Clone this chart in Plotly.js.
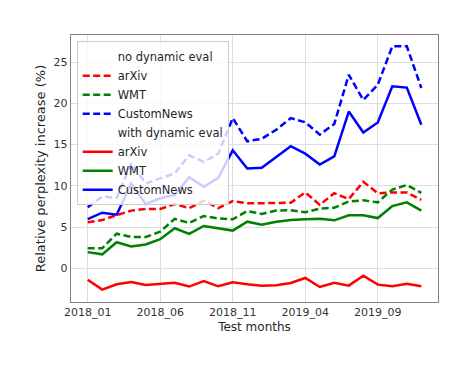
<!DOCTYPE html>
<html>
<head>
<meta charset="utf-8">
<script src="https://cdn.plot.ly/plotly-3.0.1.min.js"></script>
<style>html,body{margin:0;padding:0;background:#fff;}#chart{width:474px;height:366px;}</style>
</head>
<body>
<div id="chart"></div>
<script>
var months = ['2018_01','2018_02','2018_03','2018_04','2018_05','2018_06','2018_07','2018_08','2018_09','2018_10','2018_11','2018_12',
              '2019_01','2019_02','2019_03','2019_04','2019_05','2019_06','2019_07','2019_08','2019_09','2019_10','2019_11','2019_12'];
var tickMonths = ['2018_01','2018_06','2018_11','2019_04','2019_09'];

// no dynamic eval
var arxivNoDyn  = [5.6, 5.85, 6.45, 7.0, 7.2, 7.2, 7.8, 7.3, 8.2, 7.3, 8.15, 7.9, 7.9, 7.95, 7.95, 9.2, 7.7, 9.1, 8.4, 10.5, 9.1, 9.2, 9.2, 8.3];
var wmtNoDyn    = [2.45, 2.45, 4.2, 3.8, 3.8, 4.45, 6.0, 5.5, 6.35, 6.05, 5.95, 6.95, 6.6, 7.0, 7.05, 6.8, 7.25, 7.35, 8.1, 8.25, 8.0, 9.55, 10.1, 9.15];
var newsNoDyn   = [7.4, 8.7, 8.55, 12.7, 10.3, 10.9, 11.5, 13.7, 12.9, 13.9, 18.2, 15.4, 15.7, 16.8, 18.2, 17.7, 16.2, 17.5, 23.45, 20.4, 22.25, 26.9, 26.9, 21.85];
// with dynamic eval
var arxivDyn    = [-1.37, -2.57, -1.93, -1.65, -2.0, -1.89, -1.73, -2.2, -1.53, -2.17, -1.69, -1.93, -2.09, -2.05, -1.77, -1.16, -2.25, -1.73, -2.09, -0.88, -1.97, -2.17, -1.85, -2.17];
var wmtDyn      = [1.97, 1.7, 3.17, 2.65, 2.9, 3.53, 4.86, 4.18, 5.14, 4.86, 4.58, 5.66, 5.3, 5.66, 5.86, 5.94, 6.0, 5.82, 6.43, 6.43, 6.1, 7.55, 8.0, 7.0];
var newsDyn     = [5.98, 6.75, 6.5, 10.28, 7.8, 8.5, 8.9, 11.04, 9.88, 10.96, 14.3, 12.1, 12.2, 13.5, 14.8, 13.9, 12.57, 13.57, 19.0, 16.47, 17.67, 22.05, 21.9, 17.4];

var RED = '#ff0000', GREEN = '#008000', BLUE = '#0000ff';
var W = 2.5, DASH = '7px,3.5px';

function header(name) {
  return {x: [null], y: [null], mode: 'lines', name: name, line: {color: 'rgba(0,0,0,0)', width: W}, hoverinfo: 'skip'};
}
function series(y, name, color, dash) {
  return {x: months, y: y, mode: 'lines', name: name, line: {color: color, width: W, dash: dash}};
}

var data = [
  header('no dynamic eval'),
  series(arxivNoDyn, 'arXiv', RED, DASH),
  series(wmtNoDyn, 'WMT', GREEN, DASH),
  series(newsNoDyn, 'CustomNews', BLUE, DASH),
  header('with dynamic eval'),
  series(arxivDyn, 'arXiv', RED, 'solid'),
  series(wmtDyn, 'WMT', GREEN, 'solid'),
  series(newsDyn, 'CustomNews', BLUE, 'solid')
];

var layout = {
  width: 474, height: 366,
  margin: {l: 71, r: 36, t: 35, b: 64},
  paper_bgcolor: '#ffffff', plot_bgcolor: '#ffffff',
  font: {family: 'DejaVu Sans, sans-serif', size: 11, color: '#262626'},
  showlegend: true,
  legend: {
    x: 0.0155, y: 0.977, xanchor: 'left', yanchor: 'top',
    bgcolor: 'rgba(255,255,255,0.8)', bordercolor: '#cccccc', borderwidth: 1,
    font: {family: 'DejaVu Sans, sans-serif', size: 11.5, color: '#262626'},
    tracegroupgap: 0
  },
  xaxis: {
    type: 'category',
    range: [-1.15, 24.15],
    tickvals: tickMonths, ticktext: tickMonths,
    showgrid: true, gridcolor: '#dedede', gridwidth: 1,
    showline: true, linecolor: '#808080', linewidth: 1.2, mirror: true,
    ticks: '', zeroline: false,
    tickfont: {size: 11, color: '#333333'},
    title: {text: 'Test months', font: {size: 12, color: '#262626'}, standoff: 4}
  },
  yaxis: {
    range: [-4.07, 28.27],
    tickvals: [0, 5, 10, 15, 20, 25],
    showgrid: true, gridcolor: '#dedede', gridwidth: 1,
    showline: true, linecolor: '#808080', linewidth: 1.2, mirror: true,
    ticks: '', zeroline: false,
    automargin: true,
    tickfont: {size: 11, color: '#333333'},
    title: {text: 'Relative perplexity increase (%)', font: {size: 13, color: '#262626'}, standoff: 5}
  }
};

Plotly.newPlot('chart', data, layout, {displayModeBar: false, staticPlot: true});
</script>
</body>
</html>
